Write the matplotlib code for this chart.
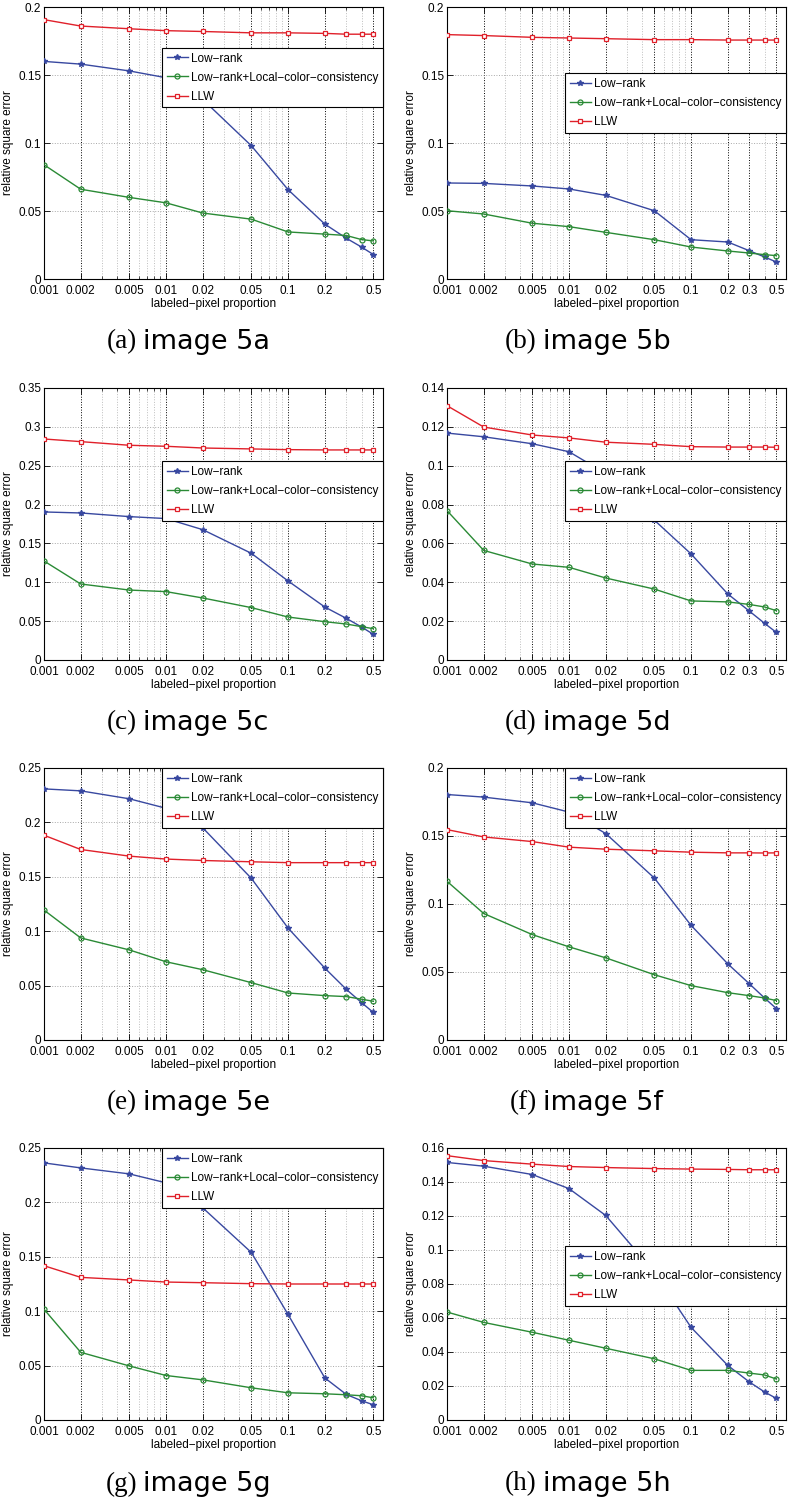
import matplotlib
matplotlib.use('Agg')

import matplotlib.pyplot as plt
from matplotlib.ticker import FixedLocator, LogLocator, NullFormatter, FormatStrFormatter

plt.rcParams['font.family'] = ['Liberation Sans', 'DejaVu Sans']

# x positions (labeled-pixel proportion)
x_prop = [0.001, 0.002, 0.005, 0.01, 0.02, 0.05, 0.1, 0.2, 0.3, 0.4, 0.5]
xticks_short = [0.001, 0.002, 0.005, 0.01, 0.02, 0.05, 0.1, 0.2, 0.5]
xticks_long = [0.001, 0.002, 0.005, 0.01, 0.02, 0.05, 0.1, 0.2, 0.3, 0.5]

series_names = ['Low\u2212rank', 'Low\u2212rank+Local\u2212color\u2212consistency', 'LLW']

# ---------- data ----------
lowrank_5a = [0.160, 0.158, 0.153, 0.148, 0.132, 0.098, 0.0657, 0.0404, 0.030, 0.0235, 0.018]
local_5a = [0.084, 0.066, 0.060, 0.056, 0.0485, 0.044, 0.0346, 0.033, 0.032, 0.029, 0.028]
llw_5a = [0.1907, 0.186, 0.184, 0.1826, 0.182, 0.181, 0.181, 0.1806, 0.180, 0.180, 0.180]

lowrank_5b = [0.0706, 0.0703, 0.0684, 0.0662, 0.0615, 0.0502, 0.0289, 0.0272, 0.0208, 0.0162, 0.0125]
local_5b = [0.0502, 0.0478, 0.041, 0.0385, 0.0343, 0.0289, 0.0235, 0.0206, 0.0191, 0.0179, 0.0172]
llw_5b = [0.1797, 0.179, 0.1777, 0.1772, 0.1767, 0.176, 0.176, 0.1757, 0.1757, 0.1757, 0.1757]

lowrank_5c = [0.1905, 0.1892, 0.1845, 0.182, 0.1677, 0.1373, 0.1017, 0.0682, 0.0536, 0.0425, 0.033]
local_5c = [0.1274, 0.0978, 0.090, 0.088, 0.0798, 0.0674, 0.0553, 0.0493, 0.0463, 0.0429, 0.0403]
llw_5c = [0.2844, 0.281, 0.2763, 0.275, 0.2728, 0.2716, 0.2707, 0.2703, 0.2703, 0.2703, 0.2703]

lowrank_5d = [0.1168, 0.1149, 0.1113, 0.1072, 0.096, 0.072, 0.0546, 0.034, 0.0252, 0.0189, 0.0142]
local_5d = [0.0769, 0.0564, 0.0494, 0.0477, 0.0422, 0.0365, 0.0304, 0.0299, 0.0286, 0.0273, 0.0254]
llw_5d = [0.1309, 0.1199, 0.1158, 0.1143, 0.1121, 0.111, 0.1098, 0.1096, 0.1096, 0.1096, 0.1095]

lowrank_5e = [0.2308, 0.229, 0.2217, 0.213, 0.195, 0.1486, 0.1029, 0.0661, 0.0466, 0.0344, 0.0253]
local_5e = [0.1194, 0.0938, 0.0828, 0.0719, 0.0646, 0.0527, 0.0432, 0.0408, 0.0399, 0.0375, 0.0356]
llw_5e = [0.1882, 0.1751, 0.169, 0.1663, 0.165, 0.1638, 0.163, 0.163, 0.163, 0.163, 0.163]

lowrank_5f = [0.1805, 0.1786, 0.1744, 0.1676, 0.1518, 0.1191, 0.0843, 0.056, 0.0414, 0.0309, 0.0231]
local_5f = [0.1167, 0.093, 0.0775, 0.0685, 0.0604, 0.048, 0.040, 0.0348, 0.0326, 0.0309, 0.029]
llw_5f = [0.1547, 0.1493, 0.1459, 0.1418, 0.1403, 0.1391, 0.1381, 0.1376, 0.1376, 0.1375, 0.1376]

lowrank_5g = [0.2363, 0.2317, 0.2262, 0.218, 0.195, 0.154, 0.097, 0.0387, 0.0235, 0.0177, 0.014]
local_5g = [0.1018, 0.0622, 0.0497, 0.0409, 0.0369, 0.0296, 0.025, 0.0241, 0.0232, 0.0223, 0.0204]
llw_5g = [0.1418, 0.1311, 0.1287, 0.1268, 0.1262, 0.1253, 0.125, 0.125, 0.125, 0.125, 0.125]

lowrank_5h = [0.1515, 0.1493, 0.1444, 0.1361, 0.1203, 0.087, 0.0545, 0.0321, 0.0224, 0.0165, 0.0127]
local_5h = [0.0635, 0.0574, 0.0516, 0.0469, 0.0422, 0.036, 0.0292, 0.0292, 0.0276, 0.0265, 0.0241]
llw_5h = [0.1555, 0.1526, 0.1505, 0.1491, 0.1485, 0.1479, 0.1476, 0.1474, 0.1472, 0.1472, 0.1472]

panel_letters = ['a', 'b', 'c', 'd', 'e', 'f', 'g', 'h']
panel_data = [
    (lowrank_5a, local_5a, llw_5a), (lowrank_5b, local_5b, llw_5b),
    (lowrank_5c, local_5c, llw_5c), (lowrank_5d, local_5d, llw_5d),
    (lowrank_5e, local_5e, llw_5e), (lowrank_5f, local_5f, llw_5f),
    (lowrank_5g, local_5g, llw_5g), (lowrank_5h, local_5h, llw_5h),
]
y_max = [0.2, 0.2, 0.35, 0.14, 0.25, 0.2, 0.25, 0.16]
y_step = [0.05, 0.05, 0.05, 0.02, 0.05, 0.05, 0.05, 0.02]
x_tick_sets = [xticks_short, xticks_long, xticks_short, xticks_long,
               xticks_short, xticks_long, xticks_short, xticks_short]
legend_top = [0.85, 0.757, 0.73, 0.73, 1.0, 1.0, 1.0, 0.64]

# ---------- layout (pixels) ----------
W, H = 790, 1502
col_left = [44, 447]
ax_w = 339
row_top = [7, 388, 768, 1148]
ax_h = 272
cap_y = [342, 723, 1103, 1484]
cap_cx = [190, 590]

blue = '#3848a0'
green = '#2a8a35'
red = '#e0202a'

fig = plt.figure(figsize=(W / 100, H / 100), dpi=100)

for i, letter in enumerate(panel_letters):
    r, c = divmod(i, 2)
    l = col_left[c] / W
    b = 1 - (row_top[r] + ax_h) / H
    ax = fig.add_axes([l, b, ax_w / W, ax_h / H])
    lr, lc, llw = panel_data[i]

    ax.plot(x_prop, lr, color=blue, lw=1.0, marker='*', ms=4, mec=blue, mfc=blue,
            label=series_names[0], zorder=3)
    ax.plot(x_prop, lc, color=green, lw=1.0, marker='o', ms=3.6, mec=green, mfc='none',
            mew=0.9, label=series_names[1], zorder=3)
    ax.plot(x_prop, llw, color=red, lw=1.0, marker='s', ms=3.4, mec=red, mfc='white',
            mew=0.9, label=series_names[2], zorder=3)

    ax.set_xscale('log')
    ax.set_xlim(0.001, 0.6)
    ax.set_ylim(0, y_max[i])

    ax.xaxis.set_major_locator(FixedLocator(x_tick_sets[i]))
    ax.xaxis.set_major_formatter(FormatStrFormatter('%g'))
    ax.xaxis.set_minor_locator(LogLocator(base=10, subs=range(2, 10)))
    ax.xaxis.set_minor_formatter(NullFormatter())
    n = int(round(y_max[i] / y_step[i]))
    yt = [k * y_step[i] for k in range(n + 1)]
    ax.set_yticks(yt)
    ax.set_yticklabels(['%g' % round(v, 3) for v in yt])

    ax.tick_params(which='both', direction='in', top=True, right=True, labelsize=8.5)
    ax.tick_params(axis='x', pad=4)
    ax.tick_params(axis='y', pad=2)
    ax.tick_params(which='major', length=4, width=0.6)
    ax.tick_params(which='minor', length=2, width=0.5)

    ax.grid(which='minor', axis='x', color='#bdbdbd', ls=':', lw=0.7)
    ax.grid(which='major', axis='x', color='black', ls=':', lw=0.7)
    ax.grid(which='major', axis='y', color='#a8a8a8', ls=':', lw=0.7)
    ax.set_axisbelow(True)
    for s in ax.spines.values():
        s.set_linewidth(0.8)

    ax.set_xlabel('labeled\u2212pixel proportion', fontsize=8.5, labelpad=1)
    ax.set_ylabel('relative square error', fontsize=8.5, labelpad=3)

    leg = ax.legend(loc='upper right', bbox_to_anchor=(1.0, legend_top[i]), fontsize=8.5,
                    fancybox=False, framealpha=1, edgecolor='black', borderpad=0.4,
                    labelspacing=0.6, handlelength=1.8, handletextpad=0.25,
                    borderaxespad=0)
    leg.get_frame().set_linewidth(0.8)

    # caption under the panel
    cy = 1 - cap_y[r] / H
    cx = cap_cx[c]
    fig.text((cx - 53) / W, cy, '(%s)' % letter, family='Liberation Serif', fontsize=19.5,
             ha='right', va='center')
    fig.text((cx - 47) / W, cy, 'image 5%s' % letter, family='DejaVu Sans', fontsize=19.5,
             ha='left', va='center')

plt.savefig('out.png', dpi=100)
